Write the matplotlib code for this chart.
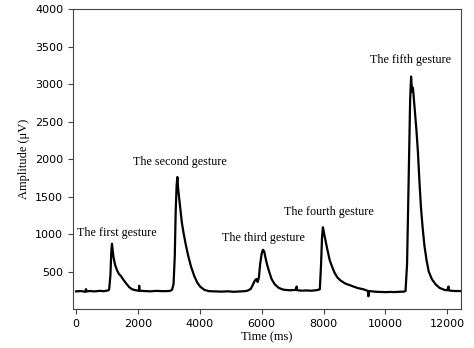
import matplotlib
matplotlib.use("Agg")
import matplotlib.pyplot as plt

# signal (time in ms, amplitude in uV)
time_ms = [0, 150, 300, 320, 340, 450, 600, 750, 900, 1000, 1050,
           1070, 1110, 1140, 1160, 1180, 1210, 1260, 1320, 1380, 1450, 1530, 1620, 1720, 1820, 1950,
           2030, 2040, 2050, 2200, 2400, 2600, 2800, 3000, 3050,
           3100, 3150, 3190, 3220, 3250, 3275, 3300, 3340, 3380, 3420, 3480, 3550, 3630, 3720, 3820, 3920, 4020, 4150,
           4300, 4500, 4700, 4900, 5100, 5300, 5450,
           5550, 5650, 5720, 5780, 5830, 5870, 5910, 5950, 6000, 6040, 6080, 6120, 6170, 6240, 6320, 6420, 6550, 6700,
           6900, 7100, 7130, 7150, 7300, 7450, 7600, 7750, 7850,
           7880, 7920, 7950, 7980, 8020, 8070, 8130, 8200, 8280, 8360, 8450, 8550, 8700, 8900, 9100, 9300,
           9440, 9450, 9460, 9600, 9700, 9850, 10000, 10150, 10300, 10450, 10600,
           10650, 10700, 10740, 10770, 10800, 10830, 10860, 10890, 10920, 10960, 11000, 11050, 11100, 11150, 11200,
           11260, 11330, 11400, 11500, 11620, 11750, 11900, 12000, 12040, 12050, 12100, 12250, 12450]
amplitude_uv = [235, 240, 230, 265, 235, 240, 235, 242, 238, 245, 250,
                265, 450, 780, 870, 800, 690, 590, 520, 470, 440, 390, 340, 290, 262, 248,
                245, 310, 245, 240, 236, 242, 238, 240, 245,
                255, 330, 700, 1300, 1650, 1760, 1600, 1450, 1290, 1150, 1000, 850, 700, 560, 440, 350, 295, 255,
                238, 235, 232, 236, 230, 234, 238,
                245, 270, 330, 380, 400, 360, 420, 600, 740, 790, 770, 690, 600, 500, 400, 330, 282, 258,
                250, 255, 300, 250, 245, 248, 244, 250, 258,
                265, 600, 950, 1090, 1000, 900, 780, 650, 560, 480, 420, 380, 340, 310, 280, 262,
                240, 170, 240, 235, 230, 228, 225, 228, 226, 230, 232,
                240, 600, 1500, 2200, 2800, 3100, 2900, 2950, 2800, 2600, 2400, 2100, 1700, 1350, 1100,
                850, 650, 500, 400, 330, 282, 256, 250, 300, 248, 245, 240, 240]

gesture_labels = ["The first gesture", "The second gesture", "The third gesture",
                  "The fourth gesture", "The fifth gesture"]
label_x = [1330, 3370, 6050, 8160, 10800]
label_y = [1020, 1960, 950, 1300, 3320]

fig = plt.figure(figsize=(4.74, 3.48), dpi=100)
ax = fig.add_axes([0.154, 0.112, 0.819, 0.862])

ax.plot(time_ms, amplitude_uv, color="black", linewidth=1.6)

for txt, x, y in zip(gesture_labels, label_x, label_y):
    ax.text(x, y, txt, ha="center", va="center", fontsize=8.7, family="Liberation Serif")

ax.set_xlim(-100, 12450)
ax.set_ylim(0, 4000)
ax.set_xticks([0, 2000, 4000, 6000, 8000, 10000, 12000])
ax.set_yticks([500, 1000, 1500, 2000, 2500, 3000, 3500, 4000])
ax.tick_params(labelsize=8, length=3.5, color="#444444")
for s in ax.spines.values():
    s.set_color("#444444")

ax.set_xlabel("Time (ms)", fontsize=9, family="Liberation Serif", labelpad=2)
ax.set_ylabel("Amplitude (\u03bcV)", fontsize=9, family="Liberation Serif", labelpad=4)

plt.savefig("out.png", dpi=100)
